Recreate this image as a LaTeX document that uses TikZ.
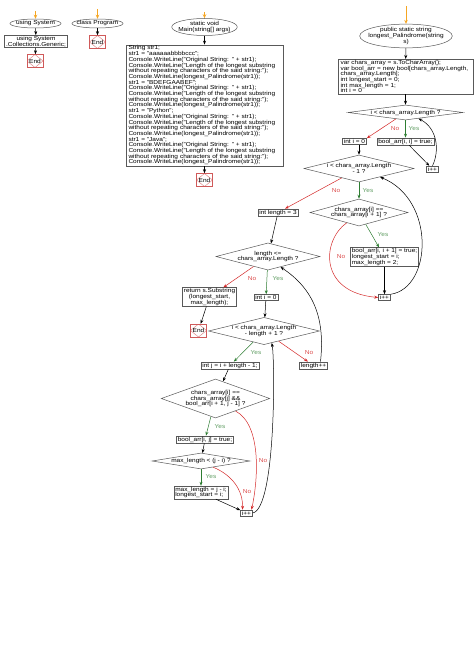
\documentclass[tikz,border=0pt]{standalone}
\usepackage{fontspec}
\setmainfont{Liberation Sans}[FakeStretch=1.12]
\usepackage{xcolor}
\usetikzlibrary{shapes.geometric, arrows.meta}

\definecolor{startorange}{HTML}{F5A623}
\definecolor{endred}{HTML}{D05A5A}
\definecolor{nored}{HTML}{D42A2A}
\definecolor{yesgreen}{HTML}{2E7D32}
\newcommand{\chartfont}{\fontsize{5.8}{5.7}\selectfont}

\begin{document}
\begin{tikzpicture}[
  x=1pt, y=-1pt,
  proc/.style={
    draw=black!65, font=\chartfont, align=center,
    inner xsep=1.5pt, inner ysep=0.9pt, line width=0.5pt
  },
  decision/.style={
    diamond, aspect=#1, draw=black!65, font=\chartfont, align=center,
    inner sep=0pt, line width=0.5pt
  },
  startnode/.style={
    ellipse, draw=black!65, font=\chartfont, align=center,
    inner xsep=-3pt, inner ysep=0pt, line width=0.5pt
  },
  endnode/.style={
    draw=endred, minimum width=16pt, minimum height=13pt, inner sep=0pt,
    font=\chartfont, line width=0.5pt,
    path picture={
      \draw[endred!70] (path picture bounding box.north)
        -- (path picture bounding box.east) -- (path picture bounding box.south)
        -- (path picture bounding box.west) -- cycle;
    }
  },
  arr/.style={
    ->, >={Stealth[length=4pt, width=3pt]}, color=black, line width=0.5pt
  },
  yesarr/.style={arr, color=yesgreen},
  noarr/.style={arr, color=nored},
  startarr/.style={
    ->, >={Stealth[length=4pt, width=3.5pt]}, color=startorange, line width=0.8pt
  },
  yeslab/.style={font=\chartfont, text=yesgreen!75!white},
  nolab/.style={font=\chartfont, text=nored!85!white}
]
\useasboundingbox (0,0) rectangle (474,669);

% Usings and class
\node[startnode, minimum width=51pt, minimum height=9pt] (start1) at (35.5,23.5) {using System};
\node[proc] (gen) at (36,41.5) {using System\\.Collections.Generic;};
\node[endnode] (end1) at (35,61) {End};
\node[startnode, minimum width=51pt, minimum height=9pt] (start2) at (97.5,23.5) {class Program};
\node[endnode] (end2) at (97.5,42) {End};

% Main
\node[startnode, minimum width=65pt, minimum height=17pt] (start3) at (204.5,27) {static void\\Main(string[] args)};
\node[proc, align=left, text width=152pt, inner xsep=2.5pt] (main) at (204.5,105.5) {String str1;\\
str1 = "aaaaaabbbbccc";\\
Console.WriteLine("Original String: " + str1);\\
Console.WriteLine("Length of the longest substring\\
without repeating characters of the said string:");\\
Console.WriteLine(longest\_Palindrome(str1));\\
str1 = "BDEFGAABEF";\\
Console.WriteLine("Original String: " + str1);\\
Console.WriteLine("Length of the longest substring\\
without repeating characters of the said string:");\\
Console.WriteLine(longest\_Palindrome(str1));\\
str1 = "Python";\\
Console.WriteLine("Original String: " + str1);\\
Console.WriteLine("Length of the longest substring\\
without repeating characters of the said string:");\\
Console.WriteLine(longest\_Palindrome(str1));\\
str1 = "Java";\\
Console.WriteLine("Original String: " + str1);\\
Console.WriteLine("Length of the longest substring\\
without repeating characters of the said string:");\\
Console.WriteLine(longest\_Palindrome(str1));};
\node[endnode] (end3) at (204.5,180) {End};

% longest_Palindrome
\node[startnode, inner xsep=-5pt, minimum width=92pt, minimum height=23pt] (start4) at (406,36) {public static string\\longest\_Palindrome(string\\s)};
\node[proc, align=left, text width=130pt, inner xsep=2.5pt] (init) at (405.5,76.5) {var chars\_array = s.ToCharArray();\\
var bool\_arr = new bool[chars\_array.Length,\\
chars\_array.Length];\\
int longest\_start = 0;\\
int max\_length = 1;\\
int i = 0};
\node[decision=7.6, minimum width=115pt, minimum height=15pt] (chkA) at (405.5,112.5) {i < chars\_array.Length ?};
\node[proc] (setI) at (354.5,141.5) {int i = 0};
\node[proc] (diagA) at (405.5,141.5) {bool\_arr[i, i] = true;};
\node[proc] (incA) at (432.5,169) {i++};
\node[decision=4, minimum width=110pt, minimum height=27pt] (chkB) at (359,168.5) {i < chars\_array.Length\\- 1 ?};
\node[proc] (lenInit) at (278,212.5) {int length = 3};
\node[decision=3.8, minimum width=98pt, minimum height=27pt] (chkPair) at (359,212.5) {chars\_array[i] ==\\chars\_array[i + 1] ?};
\node[proc, align=left] (pairSet) at (384.5,257) {bool\_arr[i, i + 1] = true;\\longest\_start = i;\\max\_length = 2;};
\node[proc] (incB) at (384.5,297.5) {i++};
\node[decision=3.8, minimum width=104pt, minimum height=27pt] (chkLen) at (268,256.5) {length <=\\chars\_array.Length ?};
\node[proc] (ret) at (209.5,297) {return s.Substring\\(longest\_start,\\max\_length);};
\node[proc] (setI2) at (266,297.5) {int i = 0};
\node[endnode] (end4) at (198.5,330.5) {End};
\node[decision=4, minimum width=111pt, minimum height=27pt] (chkC) at (264,331) {i < chars\_array.Length\\- length + 1 ?};
\node[proc] (setJ) at (230,365.5) {int j = i + length - 1;};
\node[proc] (lenInc) at (313.5,365.5) {length++};
\node[decision=2.9, minimum width=107pt, minimum height=39pt] (chkPal) at (215.5,398.5) {chars\_array[i] ==\\chars\_array[j] \&\&\\bool\_arr[i + 1, j - 1] ?};
\node[proc] (palSet) at (205,439.5) {bool\_arr[i, j] = true;};
\node[decision=6.9, minimum width=98pt, minimum height=16pt] (chkMax) at (201,461) {max\_length < (j - i) ?};
\node[proc, align=left] (maxSet) at (201,492.5) {max\_length = j - i;\\longest\_start = i;};
\node[proc] (incC) at (246.5,513) {i++};

% Entry arrows
\coordinate (in1) at (35.5,11);
\coordinate (in2) at (97.5,9);
\coordinate (in3) at (204.5,12);
\coordinate (in4) at (406,6);
\draw[startarr] (in1) -- (start1);
\draw[startarr] (in2) -- (start2);
\draw[startarr] (in3) -- (start3);
\draw[startarr] (in4) -- (start4);

% Straight flow
\draw[arr] (start1) -- (gen);
\draw[arr] (gen) -- (end1);
\draw[arr] (start2) -- (end2);
\draw[arr] (start3) -- (main);
\draw[arr] (main) -- (end3);
\draw[arr] (start4) -- (init);
\draw[arr] (init) -- (chkA);
\draw[arr] (diagA) -- (incA);
\draw[arr] (setI.south -| chkB.north) -- (chkB.north);
\draw[arr] (pairSet) -- (incB);
\draw[arr] (lenInit) -- (chkLen);
\draw[arr] (ret) -- (end4);
\draw[arr] (setI2) -- (chkC);
\draw[arr] (setJ) -- (chkPal);
\draw[arr] (palSet) -- (chkMax);
\draw[arr] (maxSet) -- (incC);

% Yes branches
\draw[yesarr] (chkA) -- (diagA);
\draw[yesarr] (chkB) -- (chkPair);
\draw[yesarr] (chkPair) -- (pairSet);
\draw[yesarr] (chkLen) -- (setI2);
\draw[yesarr] (chkC) -- (setJ);
\draw[yesarr] (chkPal) -- (palSet);
\draw[yesarr] (chkMax) -- (maxSet);

% No branches
\draw[noarr] (chkA) -- (setI.north east);
\draw[noarr] (chkB) -- (lenInit);
\draw[noarr] (chkPair.-140) .. controls (322,240) and (318,292) .. (incB.west);
\draw[noarr] (chkLen) -- (ret);
\draw[noarr] (chkC) -- (lenInc);
\draw[noarr] (chkPal.-32) .. controls (262,425) and (258,480) .. ([xshift=5pt]incC.north);
\draw[noarr] (chkMax.-27) .. controls (232,475) and (243,490) .. ([xshift=-4pt]incC.north);

% Loops back
\draw[arr] (incA.north) .. controls (440,150) and (437,128) .. (chkA.-25);
\draw[arr] (incB.north east) .. controls (432,288) and (436,200) .. (chkB.-22);
\draw[arr] ([xshift=7pt]lenInc.north) .. controls (325,320) and (315,290) .. (chkLen.-40);
\draw[arr] (incC.east) .. controls (276,508) and (275,360) .. (chkC.-57);

% Labels
\node[nolab] (lNoA) at (395,129) {No};
\node[yeslab] (lYesA) at (414,129) {Yes};
\node[nolab] (lNoB) at (336,191) {No};
\node[yeslab] (lYesB) at (368,191) {Yes};
\node[yeslab] (lYesPair) at (383,235) {Yes};
\node[nolab] (lNoPair) at (341,257) {No};
\node[nolab] (lNoLen) at (252,279) {No};
\node[yeslab] (lYesLen) at (278,279) {Yes};
\node[yeslab] (lYesC) at (256,353) {Yes};
\node[nolab] (lNoC) at (309,353) {No};
\node[yeslab] (lYesPal) at (220,427) {Yes};
\node[nolab] (lNoPal) at (263,461) {No};
\node[yeslab] (lYesMax) at (211,477) {Yes};
\node[nolab] (lNoMax) at (247,492) {No};

\end{tikzpicture}
\end{document}
